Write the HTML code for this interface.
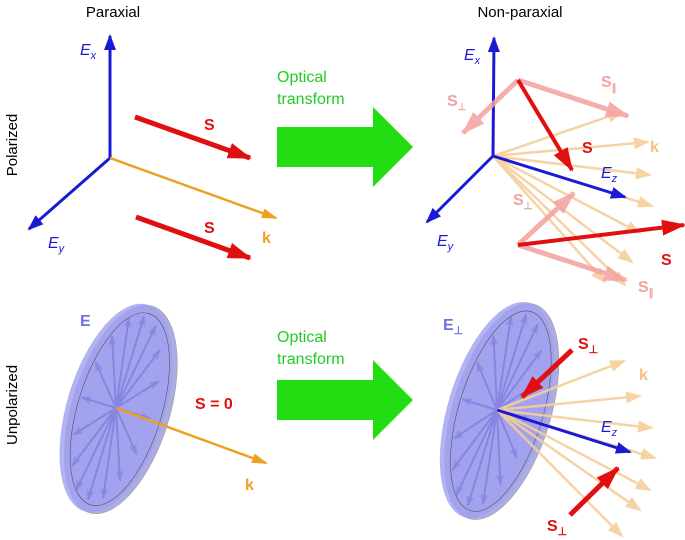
<!DOCTYPE html>
<html><head><meta charset="utf-8"><style>
html,body{margin:0;padding:0;background:#fff}
svg{display:block}
text{font-family:"Liberation Sans",sans-serif}
</style></head><body>
<svg width="685" height="540" viewBox="0 0 685 540" xmlns="http://www.w3.org/2000/svg">
<defs>
<marker id="ab" markerWidth="16" markerHeight="12" refX="14" refY="6" orient="auto" markerUnits="userSpaceOnUse"><path d="M0,0 L16,6 L0,12 Z" fill="#1a1ad6"/></marker>
<marker id="ao" markerWidth="16" markerHeight="10" refX="14" refY="5" orient="auto" markerUnits="userSpaceOnUse"><path d="M0,0 L16,5 L0,10 Z" fill="#f0a020"/></marker>
<marker id="al" markerWidth="16" markerHeight="12" refX="14" refY="6" orient="auto" markerUnits="userSpaceOnUse"><path d="M0,0 L16,6 L0,12 Z" fill="#f5cf9a"/></marker>
<marker id="ar" markerWidth="24" markerHeight="16" refX="22" refY="8" orient="auto" markerUnits="userSpaceOnUse"><path d="M0,0 L24,8 L0,16 Z" fill="#e01010"/></marker>
<marker id="ap" markerWidth="24" markerHeight="16" refX="22" refY="8" orient="auto" markerUnits="userSpaceOnUse"><path d="M0,0 L24,8 L0,16 Z" fill="#f4a0a0"/></marker>
<marker id="ad" markerWidth="10" markerHeight="8" refX="9" refY="4" orient="auto" markerUnits="userSpaceOnUse"><path d="M0,0 L10,4 L0,8 Z" fill="#7070d8" opacity="0.7"/></marker>
</defs>

<text x="113" y="17" font-size="15" text-anchor="middle">Paraxial</text>
<text x="520" y="17" font-size="15" text-anchor="middle">Non-paraxial</text>
<text transform="translate(17,145) rotate(-90)" font-size="15" text-anchor="middle">Polarized</text>
<text transform="translate(17,405) rotate(-90)" font-size="15" text-anchor="middle">Unpolarized</text>

<!-- top-left -->
<line x1="110" y1="158" x2="110" y2="36" stroke="#1a1ad6" stroke-width="3" marker-end="url(#ab)"/>
<line x1="110" y1="158" x2="29" y2="229" stroke="#1a1ad6" stroke-width="3" marker-end="url(#ab)"/>
<line x1="110" y1="158" x2="276" y2="218" stroke="#f0a020" stroke-width="2.5" marker-end="url(#ao)"/>
<line x1="135" y1="117" x2="250" y2="158" stroke="#e01010" stroke-width="5" marker-end="url(#ar)"/>
<line x1="136" y1="217" x2="250" y2="258" stroke="#e01010" stroke-width="5" marker-end="url(#ar)"/>
<text x="80" y="55" font-size="16" fill="#1a1ad6" font-style="italic">E<tspan font-size="11" dy="4">x</tspan></text>
<text x="48" y="248" font-size="16" fill="#1a1ad6" font-style="italic">E<tspan font-size="11" dy="4">y</tspan></text>
<text x="204" y="130" font-size="16" fill="#e01010" font-weight="bold">S</text>
<text x="204" y="233" font-size="16" fill="#e01010" font-weight="bold">S</text>
<text x="262" y="243" font-size="16" fill="#f0a020" font-weight="bold">k</text>

<!-- green arrows -->
<polygon points="277,127 373,127 373,107 413,147 373,187 373,167 277,167" fill="#22dd11"/>
<text x="277" y="82" font-size="16" fill="#22cc22">Optical</text>
<text x="277" y="104" font-size="16" fill="#22cc22">transform</text>
<polygon points="277,380 373,380 373,360 413,400 373,440 373,420 277,420" fill="#22dd11"/>
<text x="277" y="342" font-size="16" fill="#22cc22">Optical</text>
<text x="277" y="364" font-size="16" fill="#22cc22">transform</text>

<!-- top-right -->
<g stroke="#f5cf9a" stroke-width="2.5" marker-end="url(#al)" opacity="0.9">
<line x1="493" y1="156" x2="622" y2="112"/>
<line x1="493" y1="156" x2="648" y2="142"/>
<line x1="493" y1="156" x2="650" y2="175"/>
<line x1="493" y1="156" x2="652" y2="206"/>
<line x1="493" y1="156" x2="640" y2="233"/>
<line x1="493" y1="156" x2="632" y2="262"/>
<line x1="493" y1="156" x2="625" y2="285"/>
<line x1="493" y1="156" x2="605" y2="282"/>
</g>
<line x1="493" y1="156" x2="494" y2="38" stroke="#1a1ad6" stroke-width="3" marker-end="url(#ab)"/>
<line x1="493" y1="156" x2="427" y2="222" stroke="#1a1ad6" stroke-width="3" marker-end="url(#ab)"/>
<line x1="493" y1="156" x2="625" y2="197" stroke="#1a1ad6" stroke-width="3" marker-end="url(#ab)"/>
<g stroke="#f4a0a0" stroke-width="5" opacity="0.85">
<line x1="518" y1="80" x2="463" y2="133" marker-end="url(#ap)"/>
<line x1="518" y1="80" x2="628" y2="116" marker-end="url(#ap)"/>
<line x1="518" y1="245" x2="574" y2="193" marker-end="url(#ap)"/>
<line x1="518" y1="245" x2="626" y2="280" marker-end="url(#ap)"/>
</g>
<line x1="518" y1="80" x2="572" y2="170" stroke="#e01010" stroke-width="4" marker-end="url(#ar)"/>
<line x1="518" y1="245" x2="684" y2="225" stroke="#e01010" stroke-width="4" marker-end="url(#ar)"/>
<text x="464" y="60" font-size="16" fill="#1a1ad6" font-style="italic">E<tspan font-size="11" dy="4">x</tspan></text>
<text x="437" y="246" font-size="16" fill="#1a1ad6" font-style="italic">E<tspan font-size="11" dy="4">y</tspan></text>
<text x="601" y="178" font-size="16" fill="#1a1ad6" font-style="italic">E<tspan font-size="11" dy="4">z</tspan></text>
<text x="447" y="106" font-size="16" fill="#f4a0a0" font-weight="bold">S<tspan font-size="10" dy="4">⊥</tspan></text>
<text x="601" y="87" font-size="16" fill="#f4a0a0" font-weight="bold">S<tspan font-size="10" dy="4">∥</tspan></text>
<text x="513" y="205" font-size="16" fill="#f4a0a0" font-weight="bold">S<tspan font-size="10" dy="4">⊥</tspan></text>
<text x="638" y="292" font-size="16" fill="#f4a0a0" font-weight="bold">S<tspan font-size="10" dy="4">∥</tspan></text>
<text x="582" y="153" font-size="16" fill="#e01010" font-weight="bold">S</text>
<text x="661" y="265" font-size="16" fill="#e01010" font-weight="bold">S</text>
<text x="650" y="152" font-size="16" fill="#f5c080" font-weight="bold">k</text>

<!-- bottom-left disk -->
<g transform="translate(116,408) rotate(17)">
<ellipse cx="5" cy="0" rx="49" ry="108" fill="#8a8ad8" opacity="0.7" stroke="#777" stroke-width="0.6"/>
<ellipse cx="0" cy="0" rx="49" ry="108" fill="#a0a0f0" opacity="0.8"/>
<ellipse cx="4" cy="0" rx="42" ry="100" fill="none" stroke="#555" stroke-width="0.6"/>
<g stroke="#7070d8" stroke-width="2" opacity="0.55" marker-end="url(#ad)">
<line x1="0" y1="0" x2="0" y2="-96"/><line x1="0" y1="0" x2="0" y2="96"/>
<line x1="0" y1="0" x2="36" y2="0"/><line x1="0" y1="0" x2="-36" y2="0"/>
<line x1="0" y1="0" x2="25" y2="-68"/><line x1="0" y1="0" x2="-25" y2="68"/>
<line x1="0" y1="0" x2="-25" y2="-68"/><line x1="0" y1="0" x2="25" y2="68"/>
<line x1="0" y1="0" x2="33" y2="-38"/><line x1="0" y1="0" x2="-33" y2="38"/>
<line x1="0" y1="0" x2="-33" y2="-38"/><line x1="0" y1="0" x2="33" y2="38"/>
<line x1="0" y1="0" x2="14" y2="-90"/><line x1="0" y1="0" x2="-14" y2="90"/>
<line x1="0" y1="0" x2="-14" y2="-90"/><line x1="0" y1="0" x2="14" y2="90"/>
</g>
</g>
<line x1="116" y1="408" x2="266" y2="463" stroke="#f0a020" stroke-width="2.5" marker-end="url(#ao)"/>
<text x="80" y="326" font-size="16" fill="#7070e0" font-weight="bold">E</text>
<text x="195" y="409" font-size="16" fill="#e01010" font-weight="bold">S = 0</text>
<text x="245" y="490" font-size="16" fill="#f0a020" font-weight="bold">k</text>

<!-- bottom-right disk -->
<g transform="translate(497,410) rotate(17)">
<ellipse cx="5" cy="0" rx="49" ry="112" fill="#8a8ad8" opacity="0.7" stroke="#777" stroke-width="0.6"/>
<ellipse cx="0" cy="0" rx="49" ry="112" fill="#a0a0f0" opacity="0.8"/>
<ellipse cx="4" cy="0" rx="42" ry="104" fill="none" stroke="#555" stroke-width="0.6"/>
<g stroke="#7070d8" stroke-width="2" opacity="0.55" marker-end="url(#ad)">
<line x1="0" y1="0" x2="0" y2="-100"/><line x1="0" y1="0" x2="0" y2="100"/>
<line x1="0" y1="0" x2="36" y2="0"/><line x1="0" y1="0" x2="-36" y2="0"/>
<line x1="0" y1="0" x2="25" y2="-70"/><line x1="0" y1="0" x2="-25" y2="70"/>
<line x1="0" y1="0" x2="-25" y2="-70"/><line x1="0" y1="0" x2="25" y2="70"/>
<line x1="0" y1="0" x2="33" y2="-40"/><line x1="0" y1="0" x2="-33" y2="40"/>
<line x1="0" y1="0" x2="-33" y2="-40"/><line x1="0" y1="0" x2="33" y2="40"/>
<line x1="0" y1="0" x2="14" y2="-94"/><line x1="0" y1="0" x2="-14" y2="94"/>
<line x1="0" y1="0" x2="-14" y2="-94"/><line x1="0" y1="0" x2="14" y2="94"/>
</g>
</g>
<g stroke="#f5cf9a" stroke-width="2.5" marker-end="url(#al)" opacity="0.9">
<line x1="497" y1="410" x2="624" y2="361"/>
<line x1="497" y1="410" x2="640" y2="396"/>
<line x1="497" y1="410" x2="652" y2="428"/>
<line x1="497" y1="410" x2="655" y2="458"/>
<line x1="497" y1="410" x2="650" y2="490"/>
<line x1="497" y1="410" x2="640" y2="510"/>
<line x1="497" y1="410" x2="622" y2="536"/>
</g>
<line x1="497" y1="410" x2="630" y2="452" stroke="#1a1ad6" stroke-width="3" marker-end="url(#ab)"/>
<line x1="572" y1="350" x2="522" y2="397" stroke="#e01010" stroke-width="5" marker-end="url(#ar)"/>
<line x1="570" y1="515" x2="618" y2="468" stroke="#e01010" stroke-width="5" marker-end="url(#ar)"/>
<text x="443" y="330" font-size="16" fill="#7070e0" font-weight="bold">E<tspan font-size="11" dy="4">⊥</tspan></text>
<text x="578" y="349" font-size="16" fill="#e01010" font-weight="bold">S<tspan font-size="11" dy="4">⊥</tspan></text>
<text x="547" y="531" font-size="16" fill="#e01010" font-weight="bold">S<tspan font-size="11" dy="4">⊥</tspan></text>
<text x="601" y="432" font-size="16" fill="#1a1ad6" font-style="italic">E<tspan font-size="11" dy="4">z</tspan></text>
<text x="639" y="380" font-size="16" fill="#f5c080" font-weight="bold">k</text>
</svg>
</body></html>
